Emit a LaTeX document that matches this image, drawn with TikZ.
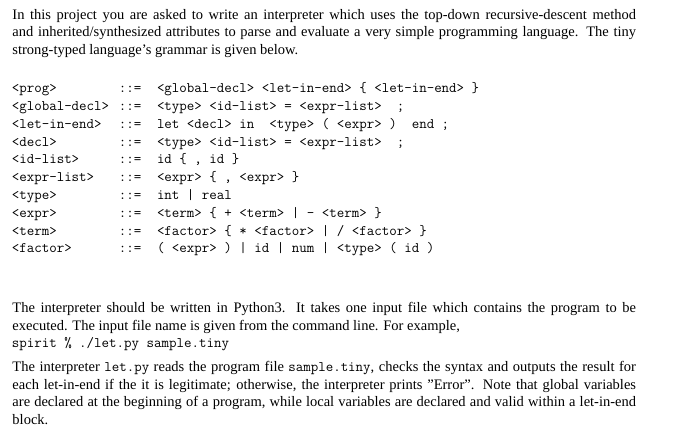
\documentclass[tikz,border=0pt]{standalone}
\usepackage{fontspec}
\setmainfont{Liberation Serif}
\newcommand\bodysize{\fontsize{14.5pt}{17.8pt}\selectfont}
\newcommand\codesize{\fontsize{14.55pt}{17.8pt}\selectfont}
\newcommand\jline[1]{\hbox to 623.5pt{#1}}
\tikzset{
  txt/.style={anchor=base west, inner sep=0pt, outer sep=0pt, font=\bodysize\rmfamily},
  code/.style={anchor=base west, inner sep=0pt, outer sep=0pt, font=\codesize\ttfamily\frenchspacing},
}
\begin{document}
\begin{tikzpicture}[x=1pt,y=-1pt]
\useasboundingbox[fill=white] (0,0) rectangle (691,437);
% paragraph 1
\node[txt] (p1a) at (12.5,19.0) {\jline{In this project you are asked to write an interpreter which uses the top-down recursive-descent method}};
\node[txt] (p1b) at (12.5,36.8) {\jline{and inherited/synthesized attributes to parse and evaluate a very simple programming language.  The tiny}};
\node[txt] (p1c) at (12.5,54.6) {strong-typed language’s grammar is given below.};
% grammar
\def\cA{11.8}\def\cB{118.8}\def\cC{157.0}
\node[code] (g1l) at (\cA,92.7) {<prog>};
\node[code] (g1s) at (\cB,92.7) {::=};
\node[code] (g1r) at (\cC,92.7) {<global-decl> <let-in-end> \{ <let-in-end> \}};
\node[code] (g2l) at (\cA,110.5) {<global-decl>};
\node[code] (g2s) at (\cB,110.5) {::=};
\node[code] (g2r) at (\cC,110.5) {<type> <id-list> = <expr-list>\ \ ;};
\node[code] (g3l) at (\cA,128.3) {<let-in-end>};
\node[code] (g3s) at (\cB,128.3) {::=};
\node[code] (g3r) at (\cC,128.3) {let <decl> in\ \ <type> ( <expr> )\ \ end ;};
\node[code] (g4l) at (\cA,146.1) {<decl>};
\node[code] (g4s) at (\cB,146.1) {::=};
\node[code] (g4r) at (\cC,146.1) {<type> <id-list> = <expr-list>\ \ ;};
\node[code] (g5l) at (\cA,163.9) {<id-list>};
\node[code] (g5s) at (\cB,163.9) {::=};
\node[code] (g5r) at (\cC,163.9) {id \{ , id \}};
\node[code] (g6l) at (\cA,181.7) {<expr-list>};
\node[code] (g6s) at (\cB,181.7) {::=};
\node[code] (g6r) at (\cC,181.7) {<expr> \{ , <expr> \}};
\node[code] (g7l) at (\cA,199.5) {<type>};
\node[code] (g7s) at (\cB,199.5) {::=};
\node[code] (g7r) at (\cC,199.5) {int | real};
\node[code] (g8l) at (\cA,217.3) {<expr>};
\node[code] (g8s) at (\cB,217.3) {::=};
\node[code] (g8r) at (\cC,217.3) {<term> \{ + <term> | - <term> \}};
\node[code] (g9l) at (\cA,235.1) {<term>};
\node[code] (g9s) at (\cB,235.1) {::=};
\node[code] (g9r) at (\cC,235.1) {<factor> \{ * <factor> | / <factor> \}};
\node[code] (g10l) at (\cA,252.9) {<factor>};
\node[code] (g10s) at (\cB,252.9) {::=};
\node[code] (g10r) at (\cC,252.9) {( <expr> ) | id | num | <type> ( id )};
% paragraph 2
\node[txt] (p2a) at (12.5,312.3) {\jline{The interpreter should be written in Python3.  It takes one input file which contains the program to be}};
\node[txt] (p2b) at (12.5,330.0) {executed. The input file name is given from the command line. For example,};
\node[code] (p2c) at (11.8,347.6) {spirit \% ./let.py sample.tiny};
% paragraph 3
\node[txt] (p3a) at (12.5,371.0) {\jline{The interpreter \texttt{let.py} reads the program file \texttt{sample.tiny}, checks the syntax and outputs the result for}};
\node[txt] (p3b) at (12.5,389.0) {\jline{each let-in-end if the it is legitimate; otherwise, the interpreter prints ''Error''.  Note that global variables}};
\node[txt] (p3c) at (12.5,406.8) {\jline{are declared at the beginning of a program, while local variables are declared and valid within a let-in-end}};
\node[txt] (p3d) at (12.5,424.7) {block.};
\end{tikzpicture}
\end{document}
